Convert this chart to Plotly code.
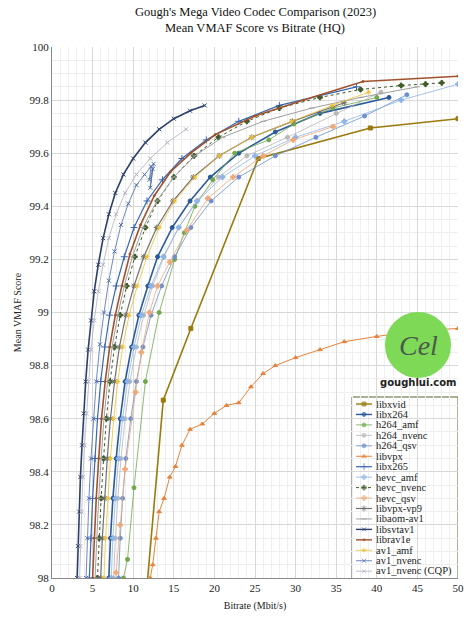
import plotly.graph_objects as go

series = [
 ("libxvid", [11.5,13.7,17.1,25.4,39.2,50], [97.9,98.67,98.94,99.58,99.695,99.73], "#9a7a0c", "square", 4, "solid", 1.6),
 ("libx264", [7.0,7.2,7.5,7.9,8.4,9.0,9.8,10.7,11.8,13.0,14.8,17,19.5,23,27.5,33,41.5],
  [98.0,98.15,98.3,98.45,98.6,98.74,98.87,98.99,99.1,99.21,99.32,99.42,99.51,99.6,99.68,99.75,99.81], "#2a5a9a", "circle", 4, "solid", 1.6),
 ("h264_amf", [8.8,9.3,10.1,11.5,13.2,15.1,16.3,17.6,19.8,22.5,26.7,29.8,34.6,40],
  [98.0,98.07,98.34,98.74,99.0,99.2,99.3,99.4,99.5,99.6,99.65,99.71,99.77,99.81], "#70a84a", "circle", 4, "solid", 0.8),
 ("h264_nvenc", [7.6,7.8,8.1,8.5,9.0,9.6,10.4,11.3,12.4,13.8,15.6,17.8,20.5,24,29,35,40.5],
  [98.0,98.15,98.3,98.45,98.6,98.74,98.87,98.99,99.1,99.21,99.32,99.42,99.51,99.59,99.66,99.75,99.83], "#b8b8b8", "circle", 4, "solid", 0.8),
 ("h264_qsv", [8.2,8.4,8.7,9.1,9.7,10.4,11.2,12.2,13.5,15.1,17.1,19.6,23,27.5,32.5,38.5,43.7],
  [98.0,98.15,98.3,98.45,98.6,98.74,98.87,98.99,99.1,99.21,99.32,99.42,99.51,99.59,99.66,99.74,99.82], "#6b8fd0", "circle", 4, "solid", 0.8),
 ("libvpx", [12.1,12.4,12.8,13.2,13.8,14.5,15.2,16,17,18.5,20,21.5,23,24.5,26,27.5,30,33,36,40,45,50],
  [98.0,98.05,98.15,98.25,98.3,98.38,98.42,98.5,98.56,98.58,98.62,98.65,98.66,98.72,98.77,98.8,98.83,98.86,98.89,98.91,98.93,98.94], "#e8823a", "triangle-up", 4, "solid", 1.0),
 ("libx265", [4.6,4.8,5.0,5.3,5.6,6.0,6.5,7.1,7.9,8.9,10.1,11.7,13.6,16,19,23,28,37.5],
  [98.0,98.15,98.3,98.45,98.6,98.74,98.87,98.99,99.1,99.21,99.32,99.42,99.5,99.58,99.65,99.72,99.78,99.85], "#3a66b0", "cross-thin", 5, "solid", 1.2),
 ("hevc_amf", [7.3,7.5,7.8,8.2,8.7,9.3,10.1,11.0,12.2,13.7,15.6,17.9,21,25,30,36,43,50],
  [98.0,98.15,98.3,98.45,98.6,98.74,98.87,98.99,99.1,99.21,99.32,99.42,99.51,99.59,99.66,99.72,99.8,99.86], "#8fb4e8", "cross", 4, "solid", 0.8),
 ("hevc_nvenc", [5.6,5.8,6.05,6.35,6.7,7.15,7.7,8.4,9.2,10.2,11.5,13,15,17.5,20.5,24,28,33,38,43,46,48],
  [98.0,98.15,98.3,98.45,98.6,98.74,98.87,98.99,99.1,99.21,99.32,99.42,99.51,99.59,99.66,99.72,99.77,99.81,99.84,99.855,99.86,99.865], "#3d5a26", "cross", 4, "dot", 1.0),
 ("hevc_qsv", [7.9,8.4,9.0,10.3,11.0,12.0,13.0,14.5,16.6,19.2,22.3,26,29.7,34.6],
  [98.02,98.2,98.41,98.7,98.85,99.0,99.1,99.19,99.31,99.43,99.51,99.59,99.65,99.70], "#f0a878", "cross", 4, "solid", 0.8),
 ("libvpx-vp9", [6.0,6.2,6.5,6.8,7.2,7.7,8.3,9.1,10.1,11.3,12.9,14.9,17.4,20.6,24.6,29.6,36],
  [98.0,98.15,98.3,98.45,98.6,98.74,98.87,98.99,99.1,99.21,99.32,99.42,99.51,99.59,99.66,99.72,99.79], "#707070", "asterisk-open", 5, "solid", 1.2),
 ("libaom-av1", [5.3,5.5,5.75,6.05,6.4,6.85,7.4,8.1,8.9,9.9,11.2,12.9,15,17.6,21,26,32,38,45],
  [98.0,98.15,98.3,98.45,98.6,98.74,98.87,98.99,99.1,99.21,99.32,99.42,99.51,99.59,99.66,99.72,99.77,99.81,99.85], "#a0a0a0", "line-ew", 4, "solid", 1.0),
 ("libsvtav1", [3.1,3.2,3.35,3.5,3.7,3.9,4.15,4.45,4.8,5.2,5.7,6.3,7.0,7.8,8.8,10,11.5,13.2,15,17,18.8],
  [98.0,98.12,98.25,98.38,98.5,98.62,98.74,98.86,98.97,99.08,99.18,99.28,99.37,99.45,99.52,99.58,99.64,99.69,99.73,99.76,99.78], "#2a3f6a", "x-thin", 4, "solid", 1.6),
 ("librav1e", [5.0,5.2,5.45,5.75,6.1,6.55,7.1,7.8,8.6,9.6,10.9,12.6,14.6,17.1,20.1,25,31,38.3,50],
  [98.0,98.15,98.3,98.45,98.6,98.74,98.87,98.99,99.1,99.22,99.33,99.44,99.53,99.6,99.67,99.74,99.8,99.87,99.89], "#a0522d", "circle", 2, "solid", 1.6),
 ("av1_amf", [6.4,6.6,6.9,7.2,7.6,8.1,8.7,9.5,10.5,11.7,13.2,15.1,17.6,20.6,24.6,29.5,34.5,39],
  [98.0,98.15,98.3,98.45,98.6,98.74,98.87,98.99,99.1,99.21,99.32,99.42,99.51,99.59,99.66,99.72,99.78,99.83], "#f0c030", "asterisk-open", 4, "solid", 0.8),
 ("av1_nvenc", [4.2,4.35,4.55,4.8,5.1,5.45,5.9,6.4,7.0,7.7,8.5,9.4,10.4,11.4,12.2,12.0,12.4,12.1,12.5],
  [98.0,98.15,98.3,98.45,98.6,98.74,98.88,99.0,99.12,99.23,99.33,99.41,99.48,99.52,99.55,99.5,99.54,99.47,99.56], "#4a6ab0", "x-thin", 4, "solid", 0.8),
 ("av1_nvenc (CQP)", [3.4,3.5,3.65,3.8,4.0,4.25,4.5,4.8,5.2,5.7,6.3,7.0,7.9,9.0,10.4,12.1,14.2,16.5],
  [98.0,98.12,98.25,98.38,98.5,98.62,98.74,98.86,98.97,99.08,99.18,99.28,99.37,99.45,99.52,99.58,99.64,99.69], "#b0b0c0", "x-thin", 4, "solid", 0.8),
]

font = "Liberation Serif, Times New Roman, serif"
fig = go.Figure()
for name, xs, ys, col, sym, ms, dash, lw in series:
    fig.add_trace(go.Scatter(x=xs, y=ys, name=name, mode="lines+markers", showlegend=False,
        line=dict(color=col, width=lw, dash=dash),
        marker=dict(symbol=sym, size=ms, color=col, line=dict(color=col, width=1))))

# custom compact legend on a pixel-coordinate overlay axis
LEG_X0, LEG_X1, LEG_Y0, ROW = 352, 458, 404, 10.45
fig.add_shape(type="rect", xref="x2", yref="y2", x0=LEG_X0, x1=LEG_X1, y0=LEG_Y0 - 7, y1=LEG_Y0 + ROW * 16.5 + 4,
              fillcolor="white", line=dict(color="#556b2f", width=1), layer="below")
for i, (name, xs, ys, col, sym, ms, dash, lw) in enumerate(series):
    yy = LEG_Y0 + i * ROW
    fig.add_trace(go.Scatter(x=[356, 364, 372], y=[yy, yy, yy], xaxis="x2", yaxis="y2", mode="lines+markers",
        showlegend=False, hoverinfo="skip", line=dict(color=col, width=min(lw, 1.4), dash=dash),
        marker=dict(symbol=sym, size=[0, ms, 0], color=col, line=dict(color=col, width=1))))
    fig.add_annotation(xref="x2", yref="y2", x=374, y=yy, text=name, showarrow=False, xanchor="left",
                       yanchor="middle", font=dict(size=10.5, family=font, color="#222"))

fig.update_layout(
    width=466, height=616, margin=dict(l=44, r=16, t=39, b=46, autoexpand=False),
    paper_bgcolor="white", plot_bgcolor="white",
    font=dict(family=font, size=11, color="#222"), showlegend=False,
    xaxis=dict(range=[0, 50], dtick=5, showgrid=True, gridcolor="#d8d8d8", zeroline=False,
               showline=True, linecolor="#888", ticks="", automargin=False,
               minor=dict(dtick=1, showgrid=True, gridcolor="#efefef"),
               title=dict(text="Bitrate (Mbit/s)", font=dict(size=10), standoff=8), tickfont=dict(size=11)),
    yaxis=dict(range=[98, 100], dtick=0.2, showgrid=True, gridcolor="#d8d8d8", zeroline=False,
               showline=True, linecolor="#888", ticks="", automargin=False,
               minor=dict(dtick=0.05, showgrid=True, gridcolor="#efefef"),
               title=dict(text="Mean VMAF Score", font=dict(size=10), standoff=6), tickfont=dict(size=11)),
    xaxis2=dict(overlaying="x", range=[52, 458], visible=False, fixedrange=True),
    yaxis2=dict(overlaying="y", range=[578, 47], visible=False, fixedrange=True),
)
for txt, py in [("Gough's Mega Video Codec Comparison (2023)", 12), ("Mean VMAF Score vs Bitrate (HQ)", 28)]:
    fig.add_annotation(xref="paper", yref="paper", x=0.5, y=(578 - py) / 531, text=txt, showarrow=False,
                       xanchor="center", yanchor="middle", font=dict(size=12.5, family=font, color="#111"))
fig.add_shape(type="circle", xref="x2", yref="y2", x0=386, x1=450, y0=313, y1=377,
              fillcolor="#7ed957", line=dict(color="#7ed957"), layer="above")
fig.add_annotation(xref="x2", yref="y2", x=418, y=345, text="<i>Cel</i>", showarrow=False,
                   font=dict(size=28, color="#4a5a4a", family=font))
fig.add_annotation(xref="x2", yref="y2", x=418, y=382, text="<b>goughlui.com</b>", showarrow=False,
                   font=dict(size=10, color="#222", family="DejaVu Sans"))
fig.write_html("out.html")
